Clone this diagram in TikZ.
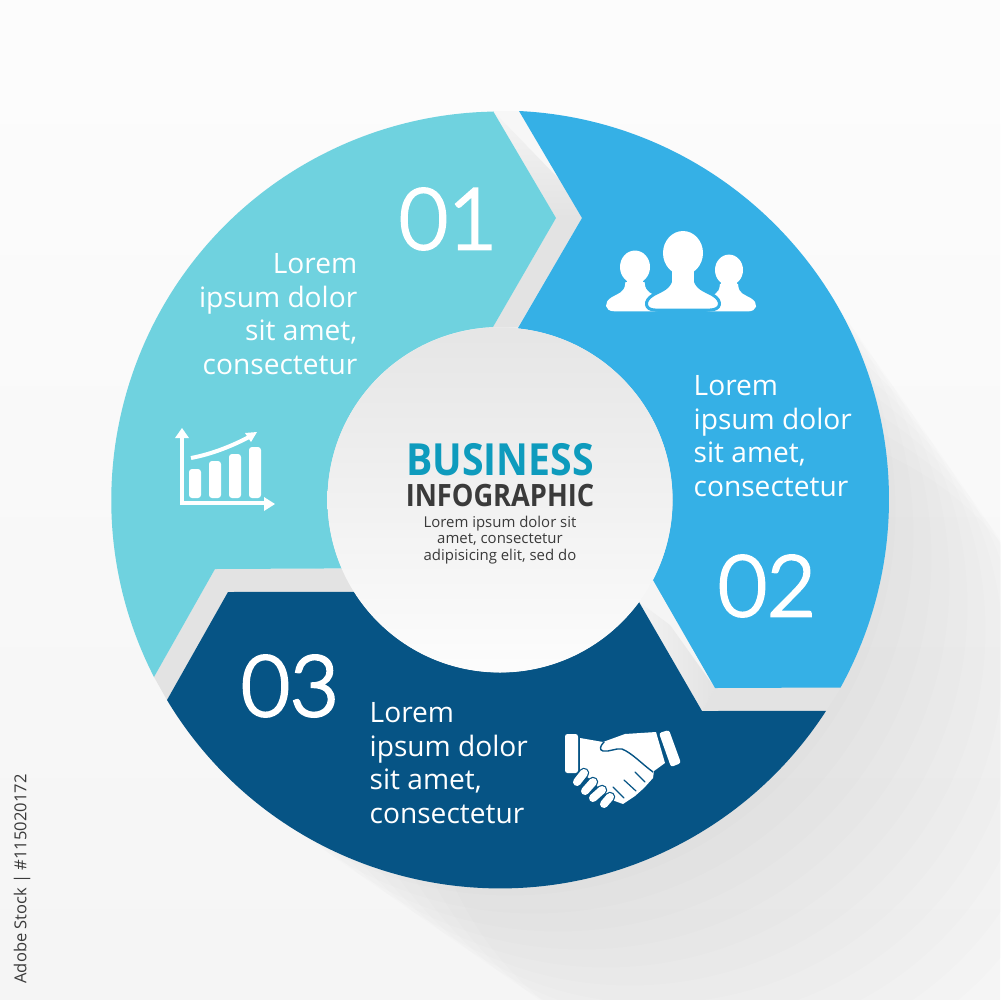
\documentclass[tikz,border=0pt]{standalone}
\usepackage{fontspec}
\setmainfont{Open Sans}
\newfontfamily\titlefont[FakeStretch=0.885]{Open Sans}
\newfontfamily\digitfont[FakeBold=3.5]{Lato Light}
\definecolor{segone}{HTML}{6FD2DF}
\definecolor{segtwo}{HTML}{35B0E6}
\definecolor{segthree}{HTML}{065485}
\definecolor{gapgray}{HTML}{E3E3E3}
\definecolor{titleblue}{HTML}{0E9BBD}
\definecolor{titlegray}{HTML}{3A3A3A}
\tikzset{
    seglabel/.style={text=white,inner sep=0pt,font=\fontsize{8}{9.55}\selectfont},
    segnumber/.style={text=white,inner sep=0pt,font=\digitfont\fontsize{24}{24}\selectfont},
    finger/.style={line cap=round,line width=1.05mm,segthree},
    fingertop/.style={line cap=round,line width=.8mm,white},
    slit/.style={line width=.12mm,segthree,line cap=round}
}
\newcommand{\personshape}[1]{
    \fill[white,draw=#1,line width=.3mm] (-28,57) -- (27,57) .. controls (38,57) and (40,48) .. (30,42) .. controls (22,37) and (12,36) .. (11,22) -- (-11,22) .. controls (-12,36) and (-22,37) .. (-30,42) .. controls (-40,48) and (-38,57) .. (-28,57) -- cycle;
    \fill[white] (-11,15) rectangle (11,32);
    \fill[white] (0,0) ellipse [x radius=20,y radius=22];
}
\begin{document}
\begin{tikzpicture}[x=0.1mm,y=-0.1mm]
    \useasboundingbox (0,0) rectangle (1000,1000);
    \shade[top color=black!1,bottom color=black!4] (0,0) rectangle (1000,1000);
    \foreach \d in {10,34,...,250}
        \fill[black,opacity=.007] ({500+\d},{500+\d}) circle ({388-.25*\d});
    \fill[black!3] (493,111) -- (519,111) -- (582,218) -- (556,218) -- cycle;
    \shade[top color=black!4,bottom color=gapgray] (493,111) -- (560,180) -- (582,218) -- (556,218) -- cycle;
    \fill[gapgray] (556,218) -- (582,218) -- (518,327) -- (493,327) -- cycle;
    \fill[black!4] (639,602) -- (653,580) -- (715,688) -- (702,711) -- cycle;
    \shade[left color=black!5,right color=gapgray] (639,602) -- (670,625) -- (715,688) -- (702,711) -- cycle;
    \fill[gapgray] (702,711) -- (715,688) -- (841,688) -- (826,711) -- cycle;
    \fill[gapgray] (215,569) -- (342,569) -- (354,592) -- (228,592) -- (167,700) -- (154,677) -- cycle;
    \fill[segone] (493,111) -- (556,218) -- (493,327) arc[start angle=267.7,end angle=156.4,radius=172.5] -- (215,569) -- (154,677) arc[start angle=152.9,end angle=269,radius=388.5] -- cycle;
    \fill[segtwo] (519,111) arc[start angle=-87.2,end angle=28.9,radius=389] -- (715,688) -- (653,580) arc[start angle=27.6,end angle=-84.1,radius=172.6] -- (582,218) -- cycle;
    \fill[segthree] (167,700) arc[start angle=149,end angle=32.9,radius=388.4] -- (702,711) -- (639,602) arc[start angle=36.3,end angle=147.8,radius=172.5] -- (228,592) -- cycle;
    \shade[top color=black!10,bottom color=black!1] (500,500) circle (172.5);

    \draw[white,line width=.35mm] (182,436) -- (182,503) -- (266,503);
    \fill[white] (182,428) -- (189,438) -- (175,438) -- cycle;
    \fill[white] (275,504) -- (264,497) -- (264,511) -- cycle;
    \fill[white,rounded corners=.3mm] (189,469) rectangle (201,498);
    \fill[white,rounded corners=.3mm] (209,461) rectangle (221,498);
    \fill[white,rounded corners=.3mm] (229,454) rectangle (241,498);
    \fill[white,rounded corners=.3mm] (249,447) rectangle (261,498);
    \draw[white,line width=.4mm] (191,458) .. controls (212,454) and (232,446) .. (249,437);
    \fill[white] (257,432) -- (245,433) -- (251,442) -- cycle;

    \begin{scope}[shift={(635,267)},scale=.75]
        \personshape{white}
    \end{scope}
    \begin{scope}[shift={(729,270)},scale=.7]
        \personshape{white}
    \end{scope}
    \begin{scope}[shift={(683,253)}]
        \personshape{segtwo}
    \end{scope}

    \fill[white,rounded corners=.25mm] (565,734) rectangle (578,773);
    \fill[white,rounded corners=.25mm] (659,733) -- (669,730) -- (681,763) -- (671,767) -- cycle;
    \fill[white] (580,738) -- (603,742) -- (625,734) -- (656,732) -- (665,763) -- (654,771) -- (653,778) -- (644,788) -- (635,796) -- (623,804) -- (612,800) -- (580,770) -- cycle;
    \draw[segthree,line width=.14mm,line cap=round] (604,742) .. controls (600,746) and (599,750) .. (603,751) .. controls (610,752) and (615,748) .. (622,749) .. controls (632,753) and (642,764) .. (653,772);
    \draw[slit] (635,772) -- (645,782);
    \draw[slit] (624,780) -- (636,791);
    \draw[slit] (613,787) -- (624,798);
    \draw[finger] (584,773) -- (577,782);
    \draw[finger] (593,782) -- (585,791);
    \draw[finger] (602,790) -- (593,798);
    \draw[finger] (610,797) -- (604,804);
    \draw[fingertop] (584,773) -- (577,782);
    \draw[fingertop] (593,782) -- (585,791);
    \draw[fingertop] (602,790) -- (593,798);
    \draw[fingertop] (610,797) -- (604,804);

    \node[seglabel,align=right,anchor=east] (labelone) at (358,314) {Lorem\\ipsum dolor\\sit amet,\\consectetur};
    \node[seglabel,align=left,anchor=west] (labeltwo) at (693,436) {Lorem\\ipsum dolor\\sit amet,\\consectetur};
    \node[seglabel,align=left,anchor=west] (labelthree) at (369,763) {Lorem\\ipsum dolor\\sit amet,\\consectetur};
    \node[segnumber] (numone) at (448,219) {01};
    \node[segnumber] (numtwo) at (767,586) {02};
    \node[segnumber] (numthree) at (290,686) {03};
    \node[inner sep=0pt,text=titleblue,font=\titlefont\bfseries\fontsize{12.6}{12.6}\selectfont] (business) at (500,460) {BUSINESS};
    \node[inner sep=0pt,text=titlegray,font=\titlefont\bfseries\fontsize{8.75}{8.75}\selectfont] (infographic) at (500,495) {INFOGRAPHIC};
    \node[inner sep=0pt,align=center,text=titlegray,font=\fontsize{4.25}{4.72}\selectfont] (centertext) at (500,540) {Lorem ipsum dolor sit\\amet, consectetur\\adipisicing elit, sed do};
    \node[inner sep=0pt,rotate=90,text=titlegray,font=\fontsize{4.7}{4.7}\selectfont] (stockid) at (22,879) {Adobe Stock | \#115020172};
\end{tikzpicture}
\end{document}
